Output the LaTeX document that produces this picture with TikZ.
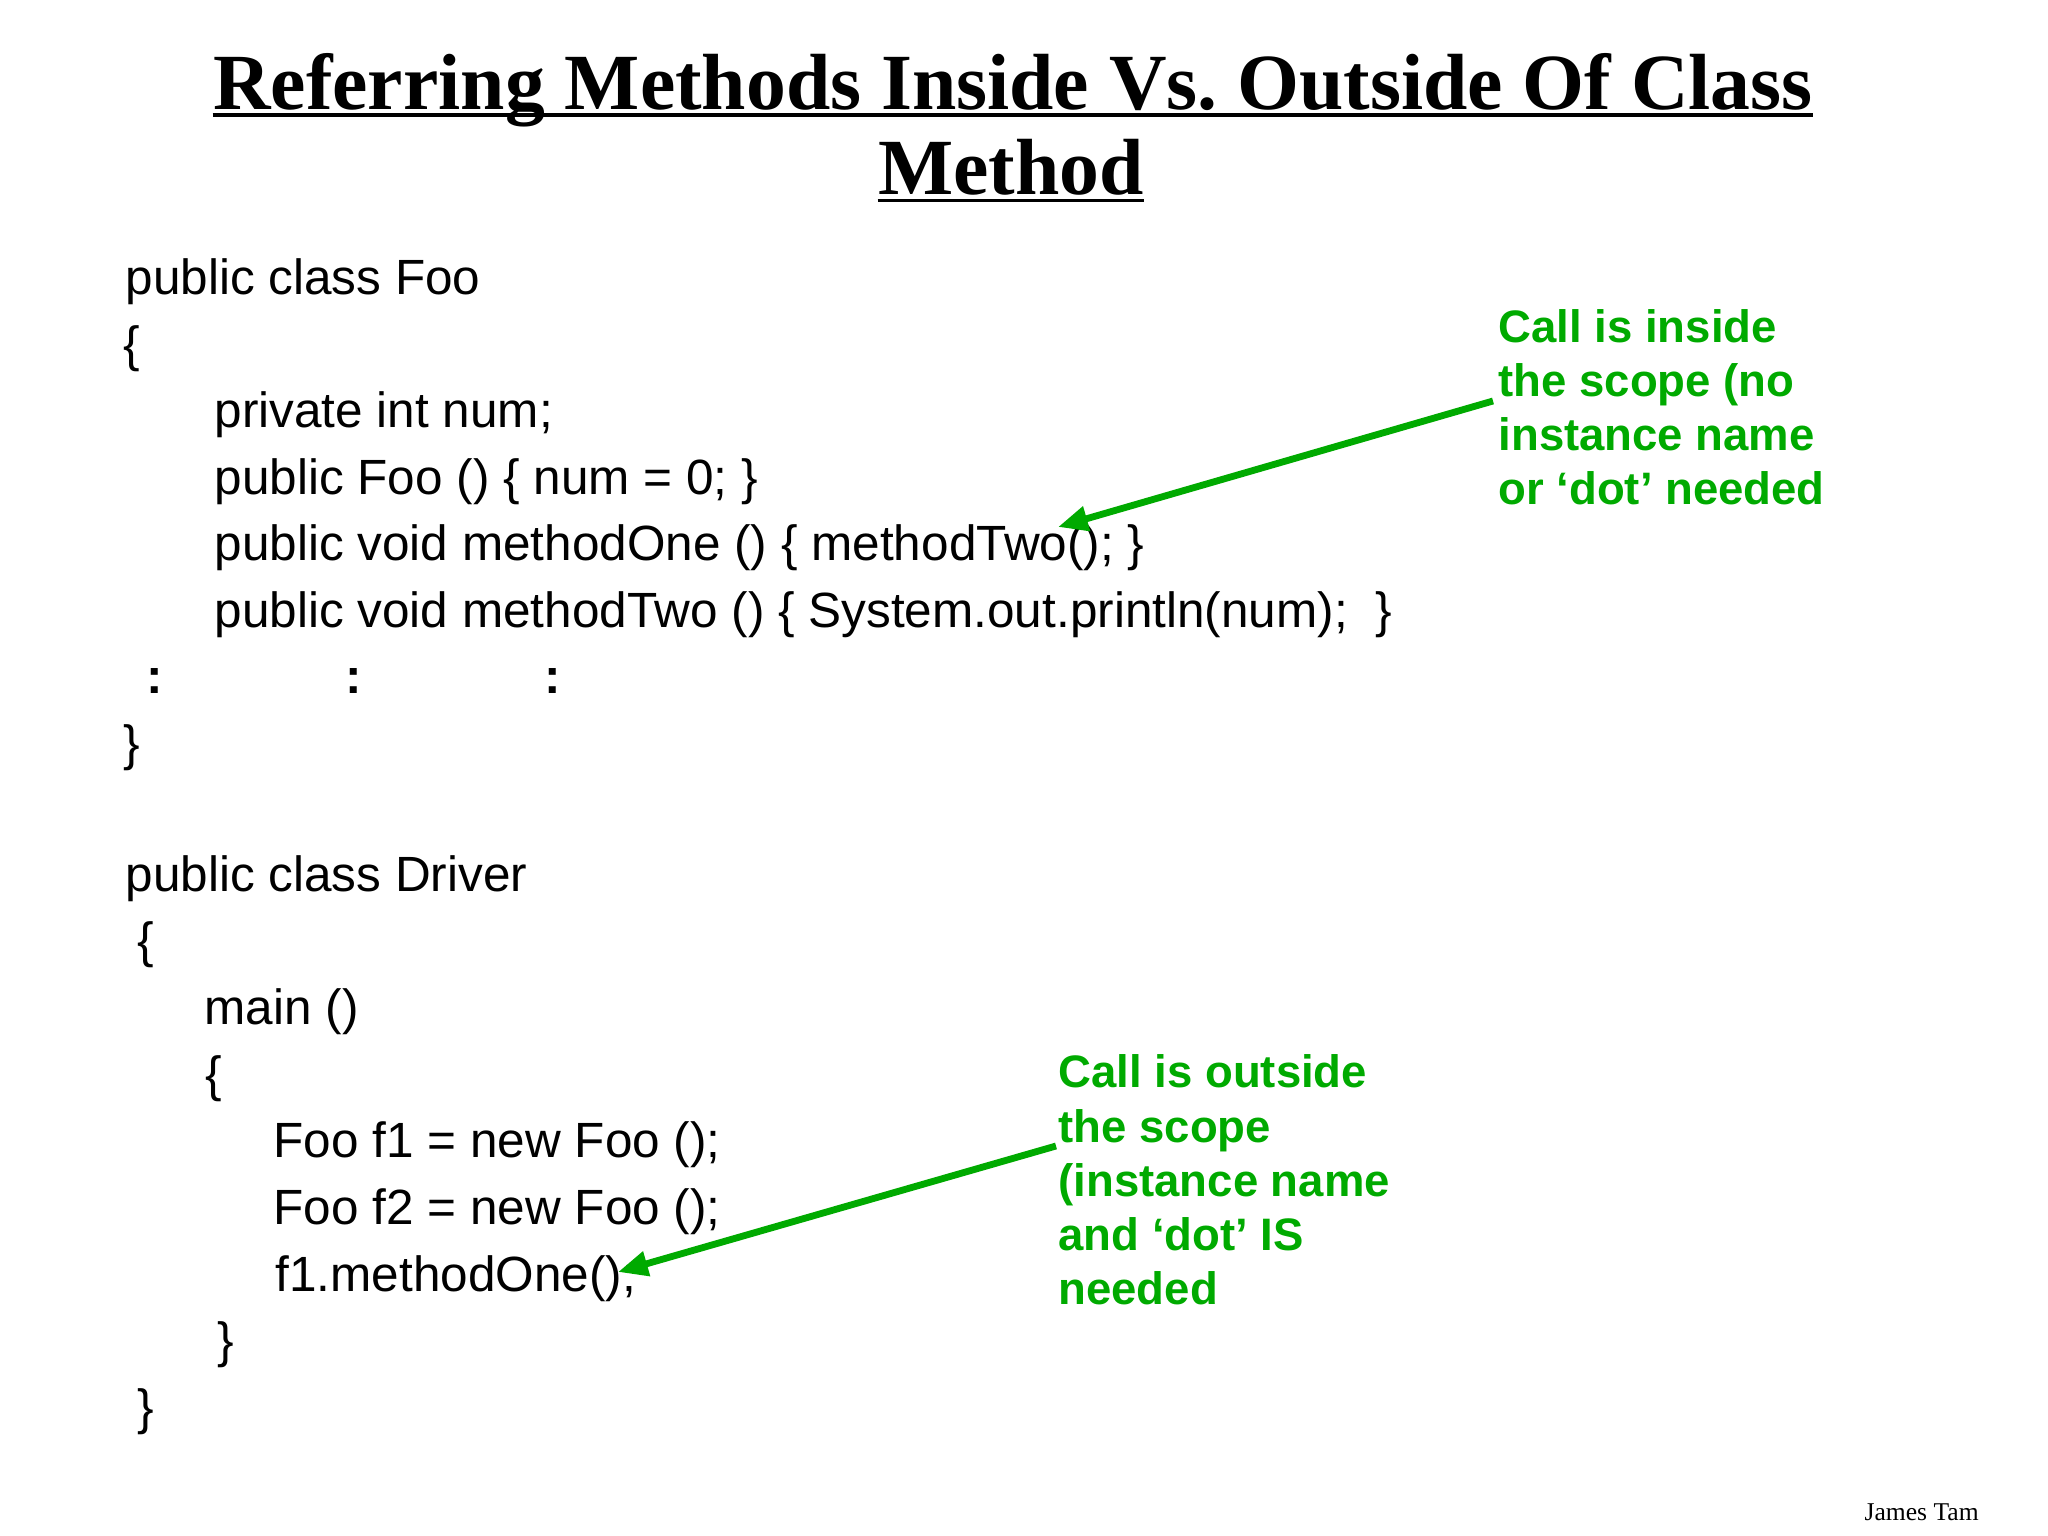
\documentclass[tikz,border=0pt]{standalone}
\usepackage{fontspec}
\setmainfont{Liberation Serif}
\newfontfamily\arialf{Liberation Sans}
\usetikzlibrary{arrows.meta}
\definecolor{callgreen}{RGB}{0,170,0}
\frenchspacing
\tikzset{
  code/.style={font=\arialf\fontsize{17.4}{20}\selectfont, anchor=base west, inner sep=0pt},
  colonmark/.style={font=\arialf\bfseries\fontsize{17.4}{20}\selectfont, anchor=base, inner sep=0pt},
  note/.style={font=\arialf\bfseries\fontsize{16}{19}\selectfont, text=callgreen, anchor=base west, inner sep=0pt},
  titletext/.style={font=\bfseries\fontsize{28}{32}\selectfont, anchor=base, inner sep=0pt},
  titlerule/.style={line width=1.15pt},
  callarrow/.style={draw=callgreen, line width=2.4pt, -{Triangle[length=10.5pt,width=8.5pt]}},
  signature/.style={font=\fontsize{9}{11}\selectfont, anchor=base west, inner sep=0pt}
}
\begin{document}
\begin{tikzpicture}[x=0.3515625pt, y=-0.3515625pt]
\useasboundingbox (0,0) rectangle (2048,1536);
\fill[white] (0,0) rectangle (2048,1536);

% title
\node[titletext] (title1) at (1013,109.3) {Referring Methods Inside Vs. Outside Of Class};
\node[titletext] (title2) at (1011,195) {Method};
\draw[titlerule] (title1.west |- 0,115) -- (title1.east |- 0,115);
\draw[titlerule] (title2.west |- 0,200.7) -- (title2.east |- 0,200.7);

% class Foo
\node[code] (f0) at (125,295) {public class Foo};
\node[code] (f1) at (123,361.5) {\{};
\node[code] (f2) at (214,428) {private int num;};
\node[code] (f3) at (214,494.5) {public Foo () \{ num = 0; \}};
\node[code] (f4) at (214,561) {public void methodOne () \{ methodTwo(); \}};
\node[code] (f5) at (214,628) {public void methodTwo () \{ System.out.println(num);\ \ \}};
\node[colonmark] (c1) at (155,693) {:};
\node[colonmark] (c2) at (354,693) {:};
\node[colonmark] (c3) at (553,693) {:};
\node[code] (f7) at (123,760) {\}};

% class Driver
\node[code] (d0) at (125,891) {public class Driver};
\node[code] (d1) at (137,957.7) {\{};
\node[code] (d2) at (204,1024.4) {main ()};
\node[code] (d3) at (205,1091.1) {\{};
\node[code] (d4) at (273,1157.8) {Foo f1 = new Foo ();};
\node[code] (d5) at (273,1224.5) {Foo f2 = new Foo ();};
\node[code] (d6) at (275,1291.2) {f1.methodOne();};
\node[code] (d7) at (217,1357.9) {\}};
\node[code] (d8) at (137,1424.6) {\}};

% notes
\node[note] (n1a) at (1498,342.7) {Call is inside};
\node[note] (n1b) at (1498,396.8) {the scope (no};
\node[note] (n1c) at (1498,450.9) {instance name};
\node[note] (n1d) at (1498,505) {or ‘dot’ needed};

\node[note] (n2a) at (1058,1087.7) {Call is outside};
\node[note] (n2b) at (1058,1142) {the scope};
\node[note] (n2c) at (1058,1196.3) {(instance name};
\node[note] (n2d) at (1058,1250.6) {and ‘dot’ IS};
\node[note] (n2e) at (1058,1304.9) {needed};

% arrows
\coordinate (a1tail) at (1493,401);
\coordinate (a1tip) at (1058,527);
\coordinate (a2tail) at (1056,1146);
\coordinate (a2tip) at (618,1272);
\draw[callarrow] (a1tail) -- (a1tip);
\draw[callarrow] (a2tail) -- (a2tip);

% signature
\node[signature] (sig) at (1864,1520.7) {James Tam};
\end{tikzpicture}
\end{document}
